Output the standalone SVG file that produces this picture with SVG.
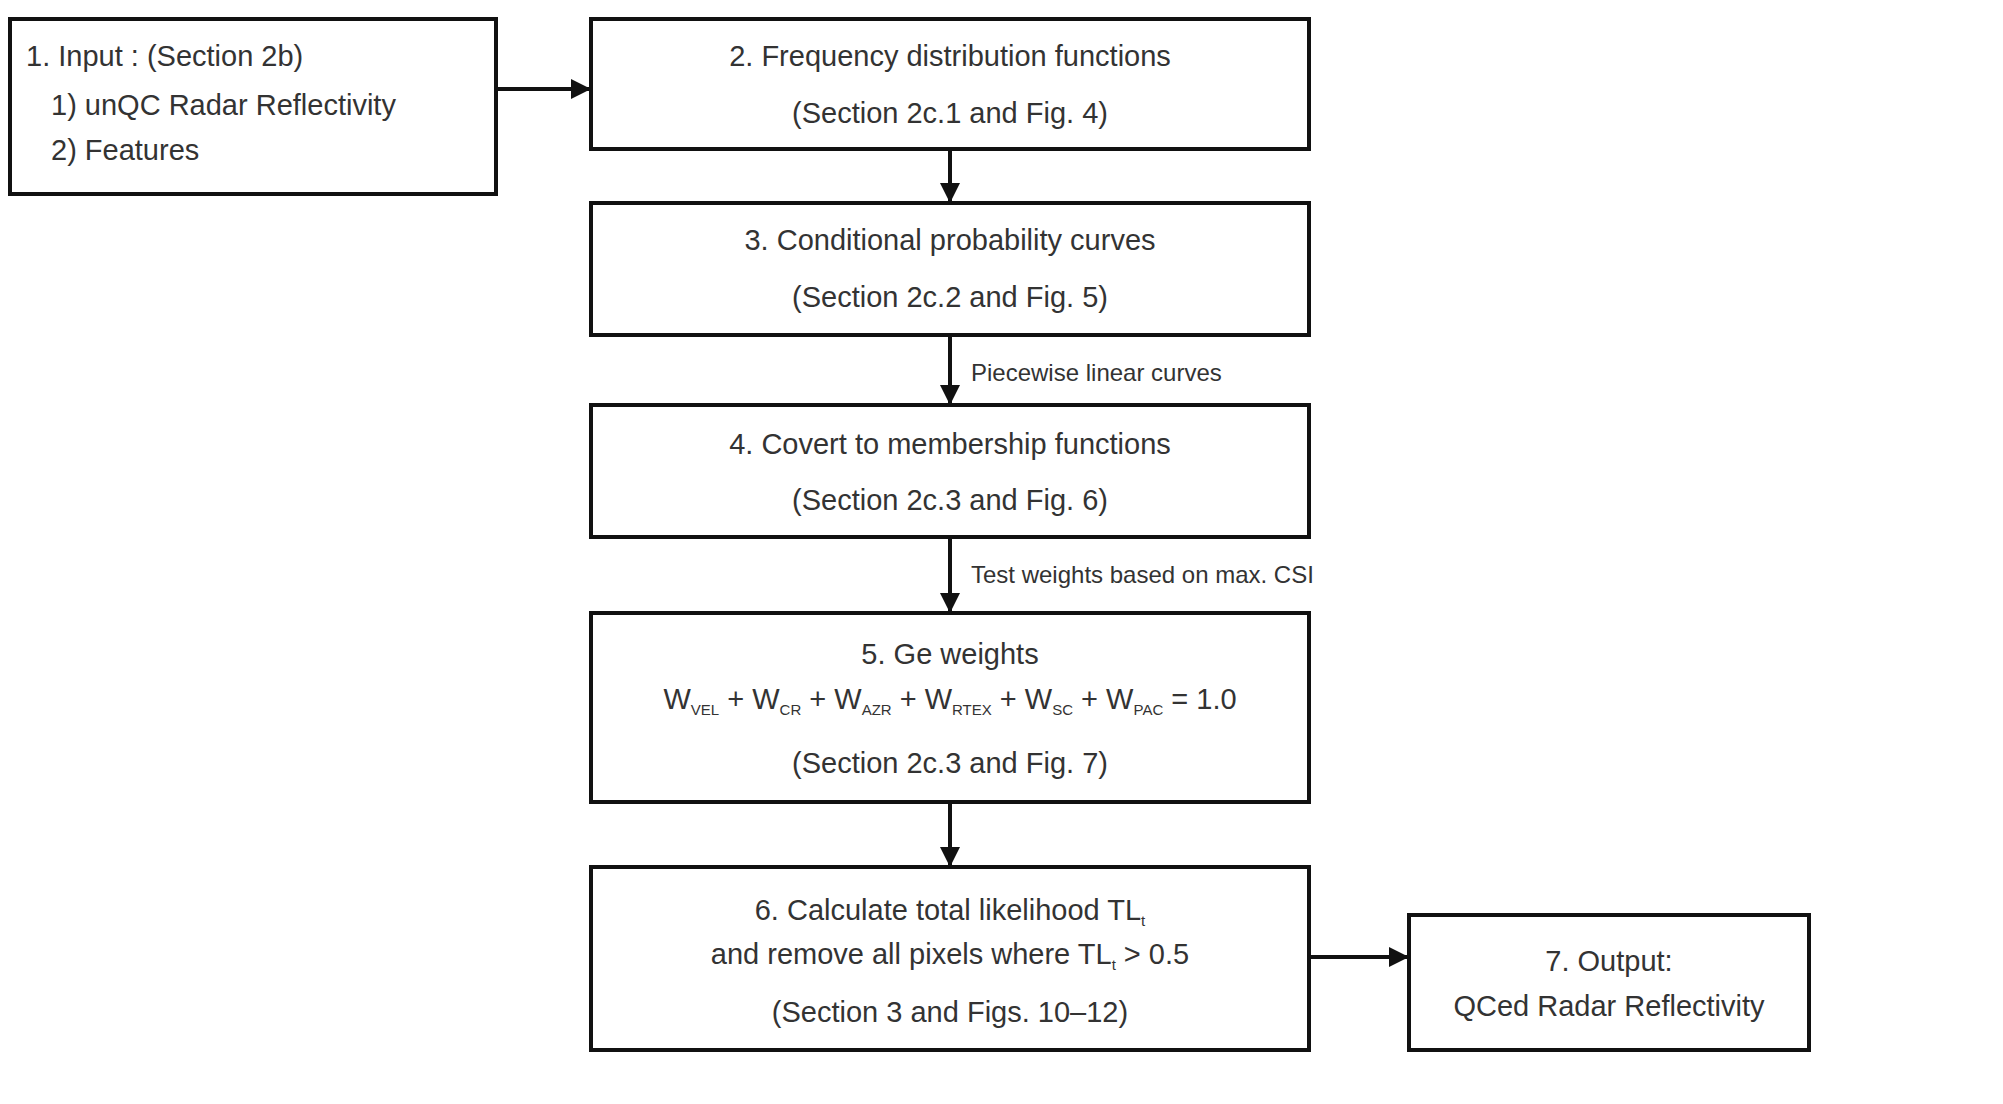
<svg xmlns="http://www.w3.org/2000/svg" width="2003" height="1104" viewBox="0 0 2003 1104">
<style>
.b{fill:#fff;stroke:#111;stroke-width:4}
text{font-family:"Liberation Sans",Arial,sans-serif;font-size:29px;fill:#333}
.c{text-anchor:middle}
.s{font-size:24px}
.sub{font-size:15px}
.e{stroke:#111;stroke-width:4;fill:none;marker-end:url(#a)}
</style>
<defs><marker id="a" viewBox="0 0 10 10" refX="9" refY="5" markerWidth="5" markerHeight="5" orient="auto" markerUnits="strokeWidth"><path d="M0,0L10,5L0,10z" fill="#111"/></marker></defs>
<rect width="2003" height="1104" fill="#fff"/>
<g id="n1"><rect class="b" x="10" y="19" width="486" height="175"/>
<text x="26" y="66">1. Input : (Section 2b)</text><text x="51" y="115">1) unQC Radar Reflectivity</text><text x="51" y="160">2) Features</text></g>
<g id="n2"><rect class="b" x="591" y="19" width="718" height="130"/>
<text class="c" x="950" y="66">2. Frequency distribution functions</text><text class="c" x="950" y="123">(Section 2c.1 and Fig. 4)</text></g>
<g id="n3"><rect class="b" x="591" y="203" width="718" height="132"/>
<text class="c" x="950" y="250">3. Conditional probability curves</text><text class="c" x="950" y="307">(Section 2c.2 and Fig. 5)</text></g>
<g id="n4"><rect class="b" x="591" y="405" width="718" height="132"/>
<text class="c" x="950" y="454">4. Covert to membership functions</text><text class="c" x="950" y="510">(Section 2c.3 and Fig. 6)</text></g>
<g id="n5"><rect class="b" x="591" y="613" width="718" height="189"/>
<text class="c" x="950" y="664">5. Ge weights</text>
<text class="c" x="950" y="709">W<tspan class="sub" dy="6">VEL</tspan><tspan dy="-6"> + W</tspan><tspan class="sub" dy="6">CR</tspan><tspan dy="-6"> + W</tspan><tspan class="sub" dy="6">AZR</tspan><tspan dy="-6"> + W</tspan><tspan class="sub" dy="6">RTEX</tspan><tspan dy="-6"> + W</tspan><tspan class="sub" dy="6">SC</tspan><tspan dy="-6"> + W</tspan><tspan class="sub" dy="6">PAC</tspan><tspan dy="-6"> = 1.0</tspan></text>
<text class="c" x="950" y="773">(Section 2c.3 and Fig. 7)</text></g>
<g id="n6"><rect class="b" x="591" y="867" width="718" height="183"/>
<text class="c" x="950" y="920">6. Calculate total likelihood TL<tspan class="sub" dy="6">t</tspan></text>
<text class="c" x="950" y="964">and remove all pixels where TL<tspan class="sub" dy="6">t</tspan><tspan dy="-6"> &gt; 0.5</tspan></text>
<text class="c" x="950" y="1022">(Section 3 and Figs. 10–12)</text></g>
<g id="n7"><rect class="b" x="1409" y="915" width="400" height="135"/>
<text class="c" x="1609" y="971">7. Output:</text><text class="c" x="1609" y="1016">QCed Radar Reflectivity</text></g>
<g id="edges">
<path class="e" d="M496,89H589"/>
<path class="e" d="M950,149V201"/>
<path class="e" d="M950,335V403"/>
<path class="e" d="M950,537V611"/>
<path class="e" d="M950,802V865"/>
<path class="e" d="M1309,957H1407"/>
<text class="s" x="971" y="381">Piecewise linear curves</text>
<text class="s" x="971" y="583">Test weights based on max. CSI</text>
</g>
</svg>
